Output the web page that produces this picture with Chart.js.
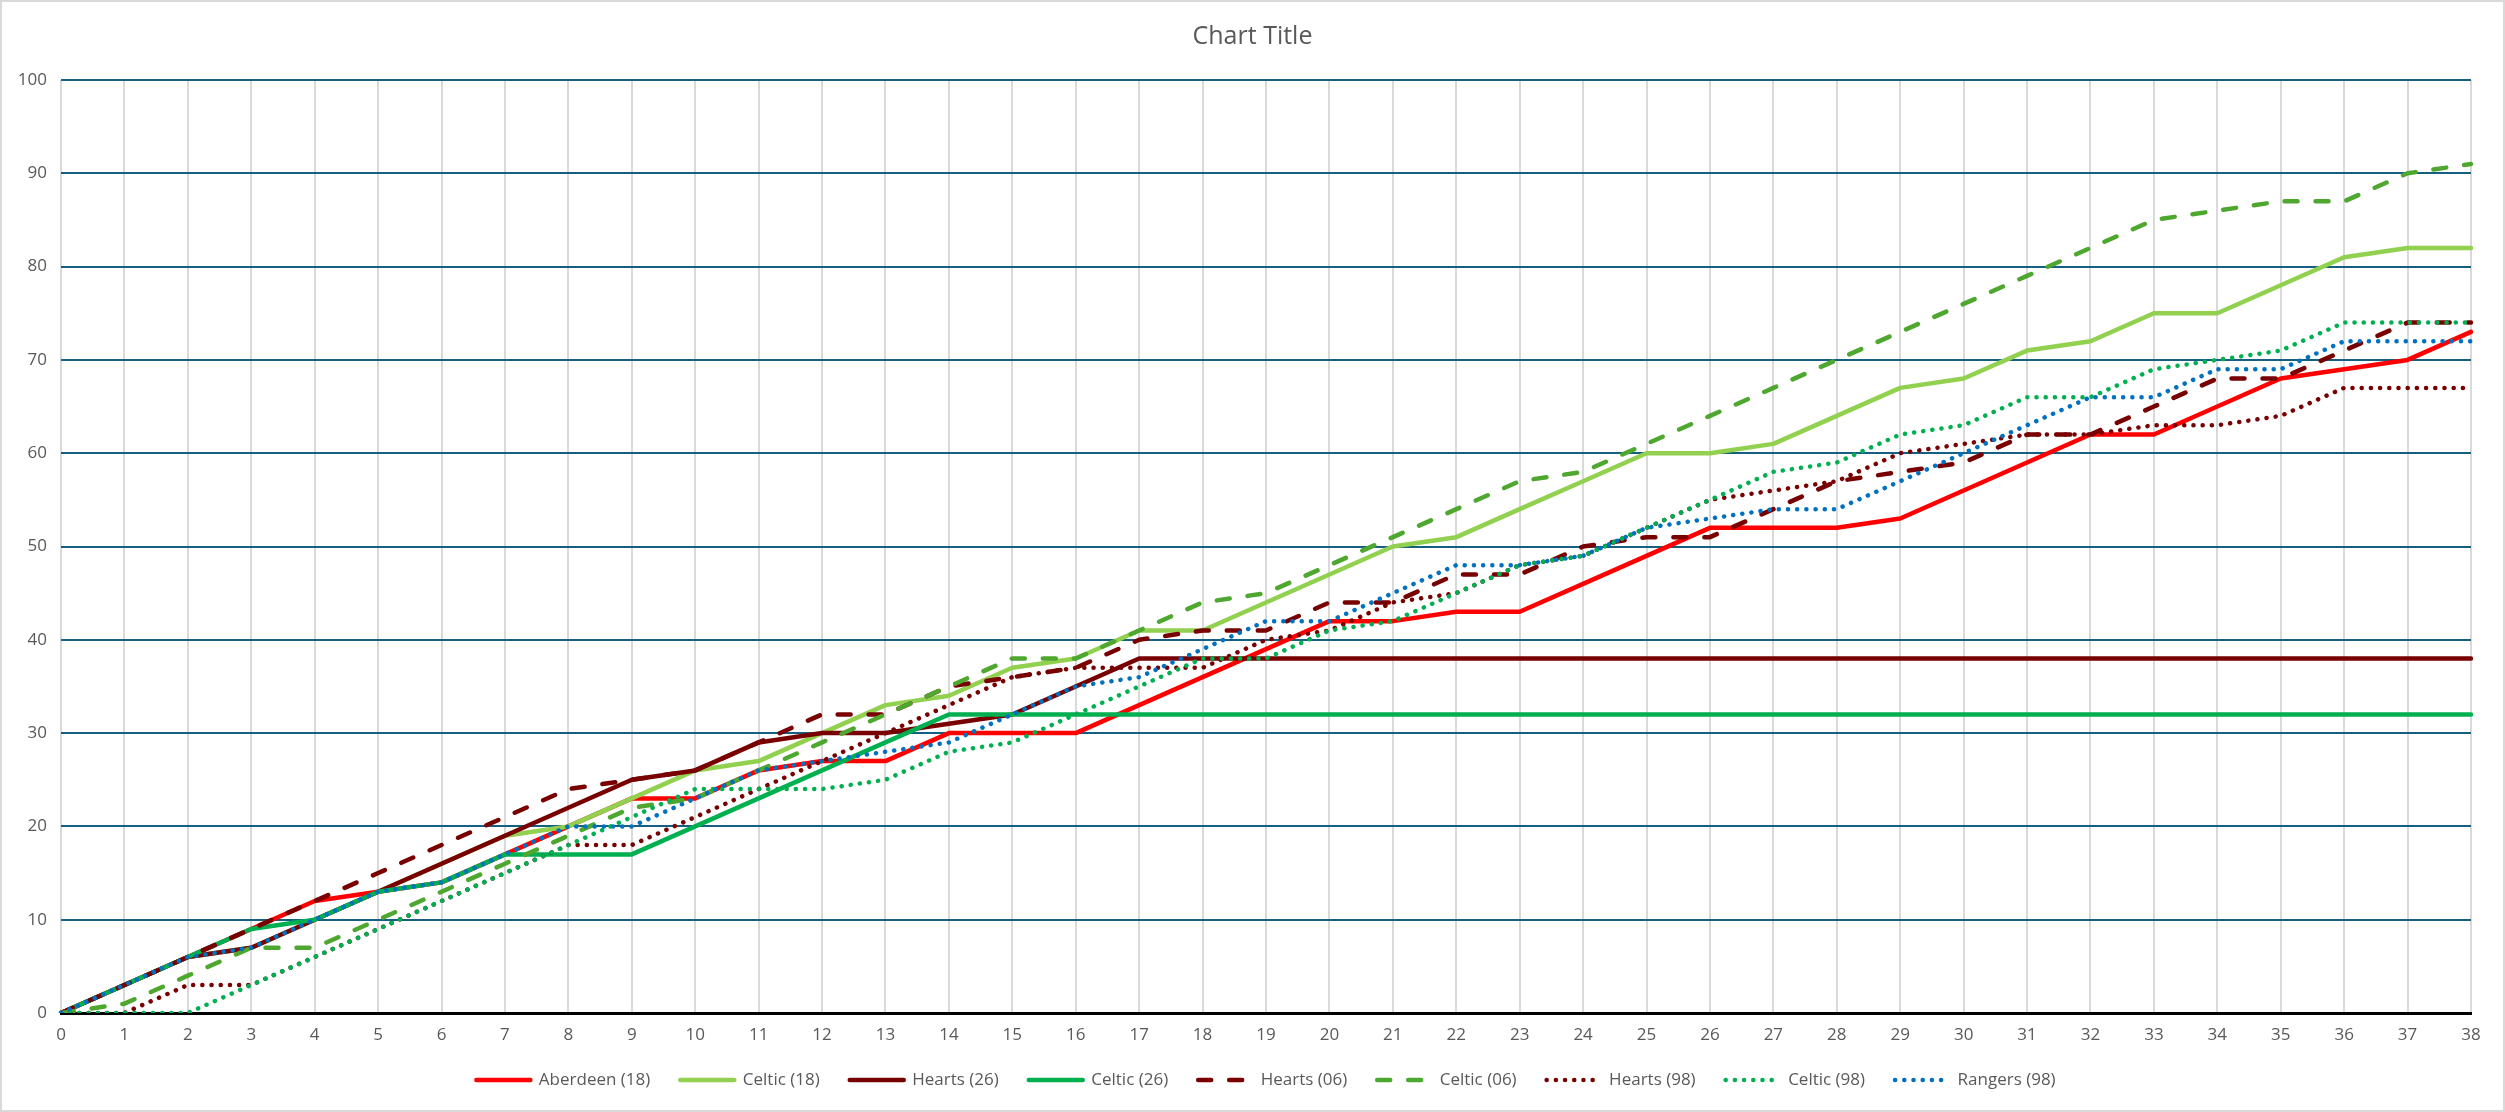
<!DOCTYPE html>
<html>
<head>
<meta charset="utf-8">
<title>Chart Title</title>
<script src="https://cdn.jsdelivr.net/npm/chart.js@4.4.1/dist/chart.umd.min.js"></script>
<style>
  html, body { margin: 0; padding: 0; background: #fff; }
  #wrap { width: 2505px; height: 1112px; position: relative; }
</style>
</head>
<body>
<div id="wrap"><canvas id="chart"></canvas></div>
<script>
const rounds = ['0','1','2','3','4','5','6','7','8','9','10','11','12','13','14','15','16','17','18','19',
  '20','21','22','23','24','25','26','27','28','29','30','31','32','33','34','35','36','37','38'];

const aberdeen18 = [0,3,6,9,12,13,14,17,20,23,23,26,27,27,30,30,30,33,36,39,42,42,43,43,46,49,52,52,52,53,56,59,62,62,65,68,69,70,73];
const celtic18 = [0,3,6,7,10,13,16,19,20,23,26,27,30,33,34,37,38,41,41,44,47,50,51,54,57,60,60,61,64,67,68,71,72,75,75,78,81,82,82];
const hearts26 = [0,3,6,7,10,13,16,19,22,25,26,29,30,30,31,32,35,38,38,38,38,38,38,38,38,38,38,38,38,38,38,38,38,38,38,38,38,38,38];
const celtic26 = [0,3,6,9,10,13,14,17,17,17,20,23,26,29,32,32,32,32,32,32,32,32,32,32,32,32,32,32,32,32,32,32,32,32,32,32,32,32,32];
const hearts06 = [0,3,6,9,12,15,18,21,24,25,26,29,32,32,35,36,37,40,41,41,44,44,47,47,50,51,51,54,57,58,59,62,62,65,68,68,71,74,74];
const celtic06 = [0,1,4,7,7,10,13,16,19,22,23,26,29,32,35,38,38,41,44,45,48,51,54,57,58,61,64,67,70,73,76,79,82,85,86,87,87,90,91];
const hearts98 = [0,0,3,3,6,9,12,15,18,18,21,24,27,30,33,36,37,37,37,40,41,44,45,48,49,52,55,56,57,60,61,62,62,63,63,64,67,67,67];
const celtic98 = [0,0,0,3,6,9,12,15,18,21,24,24,24,25,28,29,32,35,38,38,41,42,45,48,49,52,55,58,59,62,63,66,66,69,70,71,74,74,74];
const rangers98 = [0,3,6,7,10,13,14,17,20,20,23,26,27,28,29,32,35,36,39,42,42,45,48,48,49,52,53,54,54,57,60,63,66,66,69,69,72,72,72];

const yTicks = [0,10,20,30,40,50,60,70,80,90,100];

const SOLID = [];
const DASH = [13, 18];
const DOT = [0.1, 9.1];
const FONT = "'Open Sans', sans-serif";

function series(label, data, color, dash, idx) {
    return {
        label,
        data,
        borderColor: color,
        backgroundColor: color,
        borderWidth: 4.5,
        borderDash: dash,
        borderCapStyle: 'round',
        borderJoinStyle: 'round',
        pointRadius: 0,
        pointHoverRadius: 0,
        pointStyle: 'line',
        tension: 0,
        fill: false,
        // excel paints later series on top
        order: 20 - idx
    };
}

const chartBorder = {
    id: 'chartBorder',
    afterDraw(chart) {
        const c = chart.ctx;
        c.save();
        c.strokeStyle = '#D9D9D9';
        c.lineWidth = 2;
        c.strokeRect(1, 1, chart.width - 2, chart.height - 2);
        c.restore();
    }
};

new Chart(document.getElementById('chart'), {
    type: 'line',
    data: {
        labels: rounds,
        datasets: [
            series('Aberdeen (18)', aberdeen18, '#FF0000', SOLID, 0),
            series('Celtic (18)', celtic18, '#92D050', SOLID, 1),
            series('Hearts (26)', hearts26, '#780000', SOLID, 2),
            series('Celtic (26)', celtic26, '#00B050', SOLID, 3),
            series('Hearts (06)', hearts06, '#780000', DASH, 4),
            series('Celtic (06)', celtic06, '#4EA72E', DASH, 5),
            series('Hearts (98)', hearts98, '#780000', DOT, 6),
            series('Celtic (98)', celtic98, '#00B050', DOT, 7),
            series('Rangers (98)', rangers98, '#0070C0', DOT, 8)
        ]
    },
    options: {
        responsive: true,
        maintainAspectRatio: false,
        animation: false,
        layout: { padding: { left: 10, right: 10, top: 0, bottom: 13.5 } },
        scales: {
            x: {
                offset: false,
                grid: { color: '#D9D9D9', lineWidth: 2, drawTicks: false },
                border: { display: true, color: '#000000', width: 3 },
                ticks: {
                    color: '#595959', font: { family: FONT, size: 17 },
                    padding: 12, autoSkip: false, maxRotation: 0
                },
                afterFit(scale) { scale.height = 28.5; }
            },
            y: {
                min: 0,
                max: 100,
                afterBuildTicks(scale) { scale.ticks = yTicks.map(v => ({ value: v })); },
                grid: {
                    color: c => c.tick && c.tick.value === 0 ? 'rgba(0,0,0,0)' : '#156082',
                    lineWidth: 2,
                    drawTicks: false
                },
                border: { display: false },
                ticks: { color: '#595959', font: { family: FONT, size: 17 }, padding: 14 },
                afterFit(scale) { scale.width = 51; }
            },
            // empty right-hand spacer so the title sits centred on the canvas
            yRight: {
                position: 'right',
                display: true,
                min: 0,
                max: 100,
                grid: { display: false, drawTicks: false },
                border: { display: false },
                ticks: { display: false },
                afterFit(scale) { scale.width = 24; }
            }
        },
        plugins: {
            title: {
                display: true,
                text: 'Chart Title',
                color: '#595959',
                font: { family: FONT, size: 25, weight: 'normal' },
                padding: { top: 21.5, bottom: 28.5 }
            },
            legend: {
                position: 'bottom',
                fullSize: false,
                labels: {
                    usePointStyle: true,
                    pointStyleWidth: 54,
                    color: '#595959',
                    font: { family: FONT, size: 17 },
                    padding: 30,
                    sort: (a, b) => a.datasetIndex - b.datasetIndex,
                    generateLabels(chart) {
                        const items = Chart.defaults.plugins.legend.labels.generateLabels(chart);
                        items.forEach(item => {
                            const ds = chart.data.datasets[item.datasetIndex];
                            item.strokeStyle = ds.borderColor;
                            item.fillStyle = ds.borderColor;
                            item.lineWidth = ds.borderWidth;
                            item.lineDash = ds.borderDash;
                            item.lineCap = 'round';
                        });
                        return items;
                    }
                }
            },
            tooltip: { enabled: false }
        }
    },
    plugins: [chartBorder]
});
</script>
</body>
</html>
